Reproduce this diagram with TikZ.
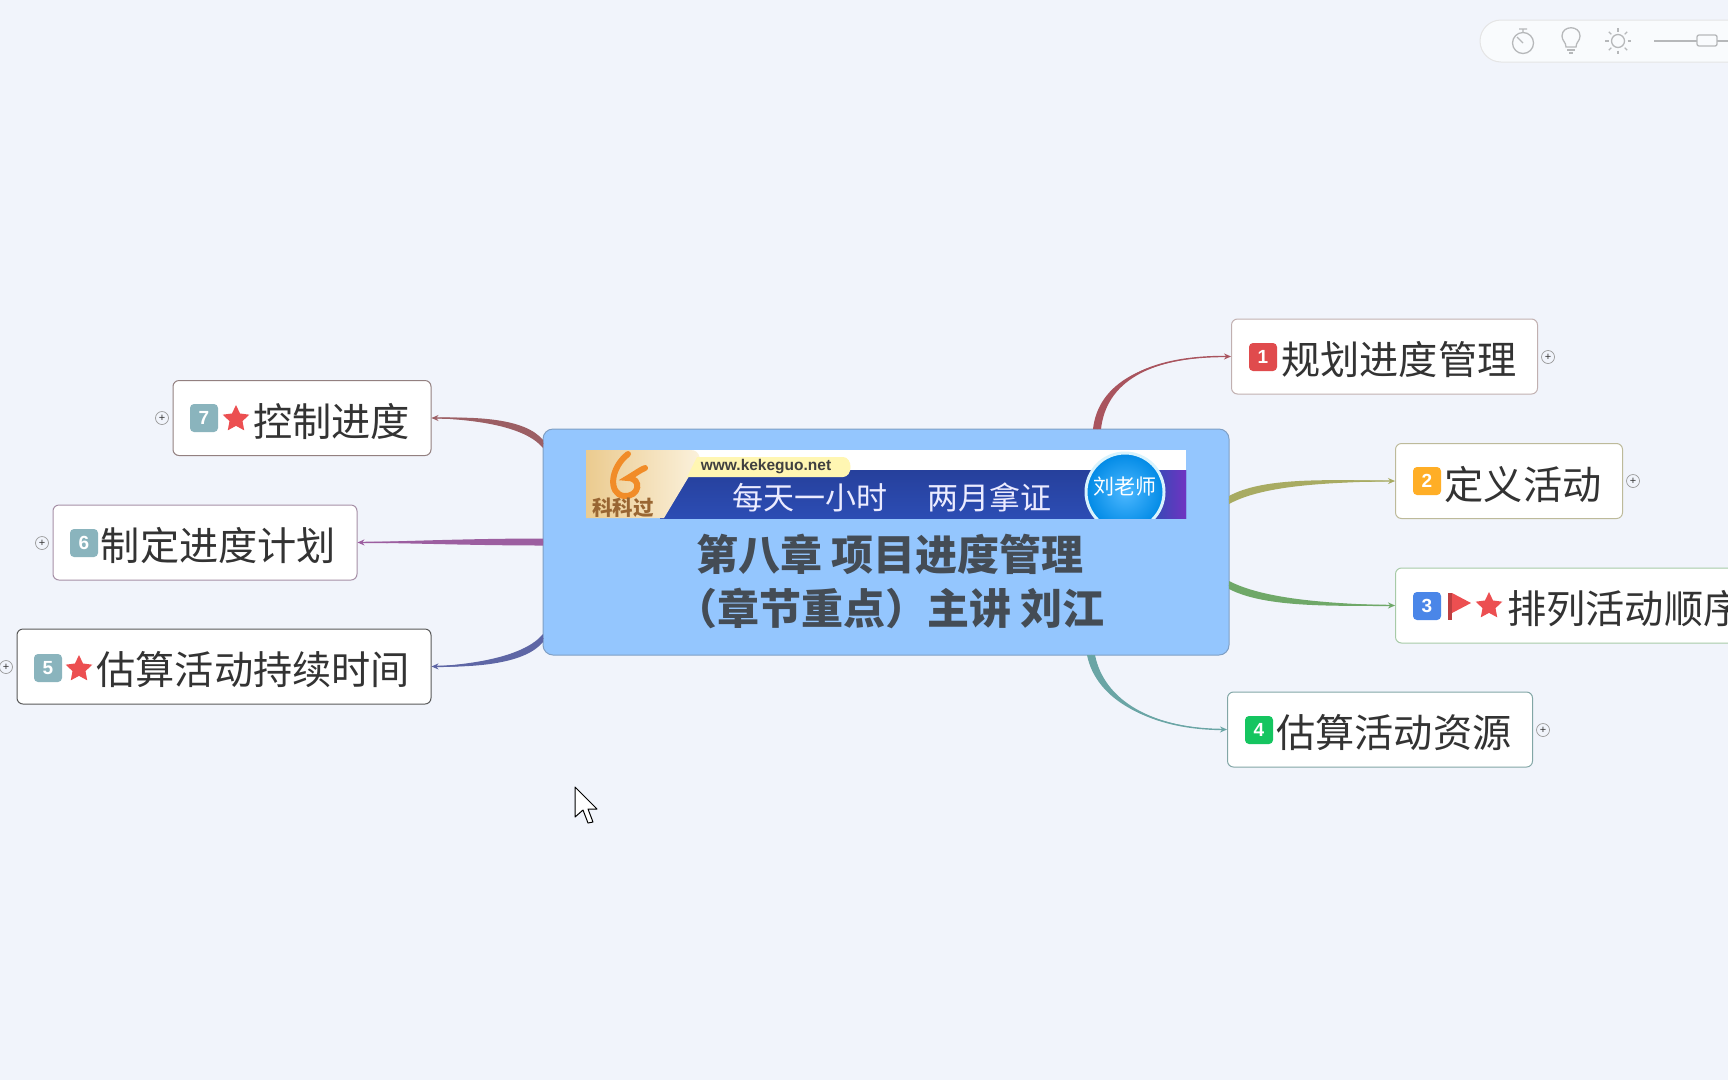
\documentclass[tikz,border=0pt]{standalone}
\usepackage{fontspec}
\setmainfont{Noto Sans CJK SC}
\newfontfamily\numfont{Liberation Sans}
\usepackage{tikz}
\usetikzlibrary{calc,arrows.meta,shapes.geometric}
\definecolor{bgcol}{HTML}{F1F4FB}
\definecolor{maincol}{HTML}{94C6FE}
\definecolor{mainedge}{HTML}{7F9FC4}
\definecolor{inkcol}{HTML}{333333}
\definecolor{titlecol}{HTML}{444C55}
\definecolor{starcol}{HTML}{EC4F51}
\definecolor{tealcol}{HTML}{8AB4BD}
\definecolor{toolcol}{HTML}{B6B8BA}
\definecolor{bluetop}{HTML}{26409C}
\definecolor{bluebot}{HTML}{2C4DB4}
\definecolor{tanleft}{HTML}{EBCB8F}
\definecolor{tanright}{HTML}{FBF1DC}
\definecolor{greenmark}{HTML}{15C560}
\definecolor{bluemark}{HTML}{4A86E8}
\definecolor{c1}{HTML}{A9545E}
\definecolor{c2}{HTML}{A8AB62}
\definecolor{c3}{HTML}{6FA868}
\definecolor{c4}{HTML}{6AA5A5}
\definecolor{c5}{HTML}{5E66A5}
\definecolor{c6}{HTML}{9C5EA0}
\definecolor{c7}{HTML}{9C5F64}
\tikzset{
  topic/.style={draw=#1, fill=white, rounded corners=6pt, line width=1pt, anchor=west, minimum height=75pt, align=right, inner xsep=21pt, inner ysep=0pt, text height=36pt, text depth=0pt, text=inkcol, font=\fontsize{39.2}{39.2}\selectfont},
  badge/.style={fill=#1, rounded corners=4pt, minimum size=28pt, inner sep=0pt, text=white, font=\numfont\bfseries\fontsize{19}{19}\selectfont},
  starmark/.style={star, star points=5, star point ratio=2.05, fill=starcol, minimum size=28pt, inner sep=0pt},
  plusbtn/.style={circle, draw=gray!80, fill=bgcol, line width=.7pt, minimum size=13pt, inner sep=0pt, text=inkcol, font=\numfont\fontsize{11}{11}\selectfont},
  toolline/.style={draw=toolcol, line width=1.3pt}
}
\newcommand{\conn}[6]{
  \fill[#1] ($(#2)+(#6)$) .. controls ($(#3)+(#6)$) and ($(#4)+0.4*(#6)$) .. (#5) .. controls ($(#4)-0.4*(#6)$) and ($(#3)-(#6)$) .. ($(#2)-(#6)$) -- cycle;
  \draw[#1, line width=1.4pt, -{Stealth[length=7pt,width=6pt]}] (#2) .. controls (#3) and (#4) .. (#5);
}
\begin{document}
\begin{tikzpicture}[x=1pt,y=-1pt]
\useasboundingbox (0,0) rectangle (1728,1080);
\fill[bgcol] (0,0) rectangle (1728,1080);

\node [draw=mainedge, fill=maincol, rounded corners=10pt, line width=1pt, minimum width=686pt, minimum height=226pt, inner sep=0pt] (main) at (886,542) {};

\fill [white] (586,450) rectangle (1186,470);
\shade [top color=bluetop, bottom color=bluebot] (660,470) rectangle (1186,518);
\shade [left color=tanleft, right color=tanright] (586,450) -- (690,450) .. controls (696,450) and (698,452) .. (700,458) -- (664,518) -- (586,518) -- cycle;
\draw [orange!75!brown!90!white, line width=6pt, line cap=round] (628,454) .. controls (610,468) and (608,494) .. (624,496) .. controls (640,497) and (642,478) .. (628,478) .. controls (638,472) and (640,470) .. (645,468);
\node [inner sep=0pt, text=brown!80!black, font=\bfseries\fontsize{20.5}{20.5}\selectfont] (logotext) at (623,508) {科科过};
\fill [orange!25!yellow!30!white] (687,477) -- (697,457) -- (843,457) .. controls (853,457) and (853,477) .. (843,477) -- cycle;
\node [inner sep=0pt, text=black!75, font=\numfont\bfseries\fontsize{15.5}{15.5}\selectfont] (site) at (766,467) {www.kekeguo.net};
\node [inner sep=0pt, anchor=west, text=blue!8!white, font=\fontsize{31}{31}\selectfont] (slogan) at (732,497) {每天一小时\hspace*{40pt}两月拿证};
\begin{scope}
\clip (1080,450) rectangle (1186,518);
\shade [left color=bluebot, right color=violet!60!blue!80!white] (1150,470) rectangle (1186,518);
\shade [inner color=cyan!60!blue!70!white, outer color=blue!40!cyan!90!black] (1125,492) circle (39);
\draw [cyan!15!white, line width=3pt] (1125,492) circle (39);
\end{scope}
\node [inner sep=0pt, text=white, font=\fontsize{21}{21}\selectfont] (teacher) at (1125,487) {刘老师};

\node [inner sep=0pt, align=center, text=titlecol, font=\bfseries\fontsize{42}{54}\selectfont] (title) at (890,581) {第八章 项目进度管理\\（章节重点）主讲 刘江};

\node [topic=red!12!gray!55, text width=264pt] (t1) at (1231,356.5) {规划进度管理};
\node [topic=olive!30!gray!60, text width=185pt] (t2) at (1395,481) {定义活动};
\node [topic=green!25!gray!55, text width=326pt] (t3) at (1395,605.5) {排列活动顺序};
\node [topic=teal!40!gray!70, text width=263pt] (t4) at (1227,729.5) {估算活动资源};
\node [topic=red!15!black!50, text width=216pt] (t7) at (172.5,418) {控制进度};
\node [topic=violet!25!gray!70, text width=262pt] (t6) at (52.5,542.5) {制定进度计划};
\node [topic=black!65, text width=372pt] (t5) at (16.5,666.5) {估算活动持续时间};

\node [badge=starcol!95!black] (n1) at (1263,357) {1};
\node [badge={orange!75!yellow!85!white}] (n2) at (1427,481) {2};
\node [badge=bluemark] (n3) at (1427,606) {3};
\node [badge=greenmark] (n4) at (1259,730) {4};
\node [badge=tealcol] (n5) at (48,668) {5};
\node [badge=tealcol] (n6) at (84,543) {6};
\node [badge=tealcol] (n7) at (204,418) {7};

\fill [starcol!80!black] (1448,593) rectangle (1452,620);
\fill [starcol] (1452,593) -- (1471,603) -- (1452,613) -- cycle;
\node [starmark] (s3) at (1489,606) {};
\node [starmark] (s5) at (79,669) {};
\node [starmark] (s7) at (236,419) {};

\node [plusbtn] (p1) at (1548,357) {+};
\node [plusbtn] (p2) at (1633,481) {+};
\node [plusbtn] (p4) at (1543,730) {+};
\node [plusbtn] (p5) at (6,667) {+};
\node [plusbtn] (p6) at (42,543) {+};
\node [plusbtn] (p7) at (162,418) {+};

\coordinate (s1) at (1097,429);
\coordinate (s2) at (1229,500);
\coordinate (s3b) at (1229,585);
\coordinate (s4) at (1091,655);
\coordinate (s5b) at (543,638);
\coordinate (s6) at (543,542);
\coordinate (s7b) at (543,444);

\conn{c1}{s1}{1102,384}{1145,356}{t1.west}{4,0}
\conn{c2}{s2}{1262,482}{1320,481}{t2.west}{0,4}
\conn{c3}{s3b}{1262,602}{1320,605}{t3.west}{0,4}
\conn{c4}{s4}{1100,700}{1150,729}{t4.west}{4,0}
\conn{c5}{s5b}{525,660}{475,666}{t5.east}{0,4}
\conn{c6}{s6}{480,542}{420,542}{t6.east}{0,3.5}
\conn{c7}{s7b}{525,422}{475,418}{t7.east}{0,4}

\draw [black, fill=white, line width=1pt, line join=round] (575,787) -- (575,817) -- (583,810) -- (588,823) -- (593,822) -- (588,809) -- (597,809) -- cycle;

\draw [draw=black!10, fill=white!60!bgcol, line width=1pt, rounded corners=21pt] (1480,20) rectangle (1770,62);
\draw [toolline] (1523,43) circle (10.5);
\draw [toolline] (1519,29) -- (1527,29) (1523,29) -- (1523,32.5) (1517,37) -- (1523,43);
\draw [toolline] (1566,47) .. controls (1566,42) and (1562,41) .. (1562,36) .. controls (1562,25) and (1580,25) .. (1580,36) .. controls (1580,41) and (1576,42) .. (1576,47) -- cycle;
\draw [toolline] (1567,50) -- (1575,50) (1569,53) -- (1573,53);
\draw [toolline] (1618,41) circle (6.5);
\foreach \a in {0,45,...,315}
  \draw [toolline] ($(1618,41)+(\a:9.5)$) -- ($(1618,41)+(\a:13)$);
\draw [toolline] (1654,41) -- (1697,41) (1717,41) -- (1728,41);
\draw [toolline, rounded corners=2pt] (1697,35) rectangle (1717,46);
\end{tikzpicture}
\end{document}
